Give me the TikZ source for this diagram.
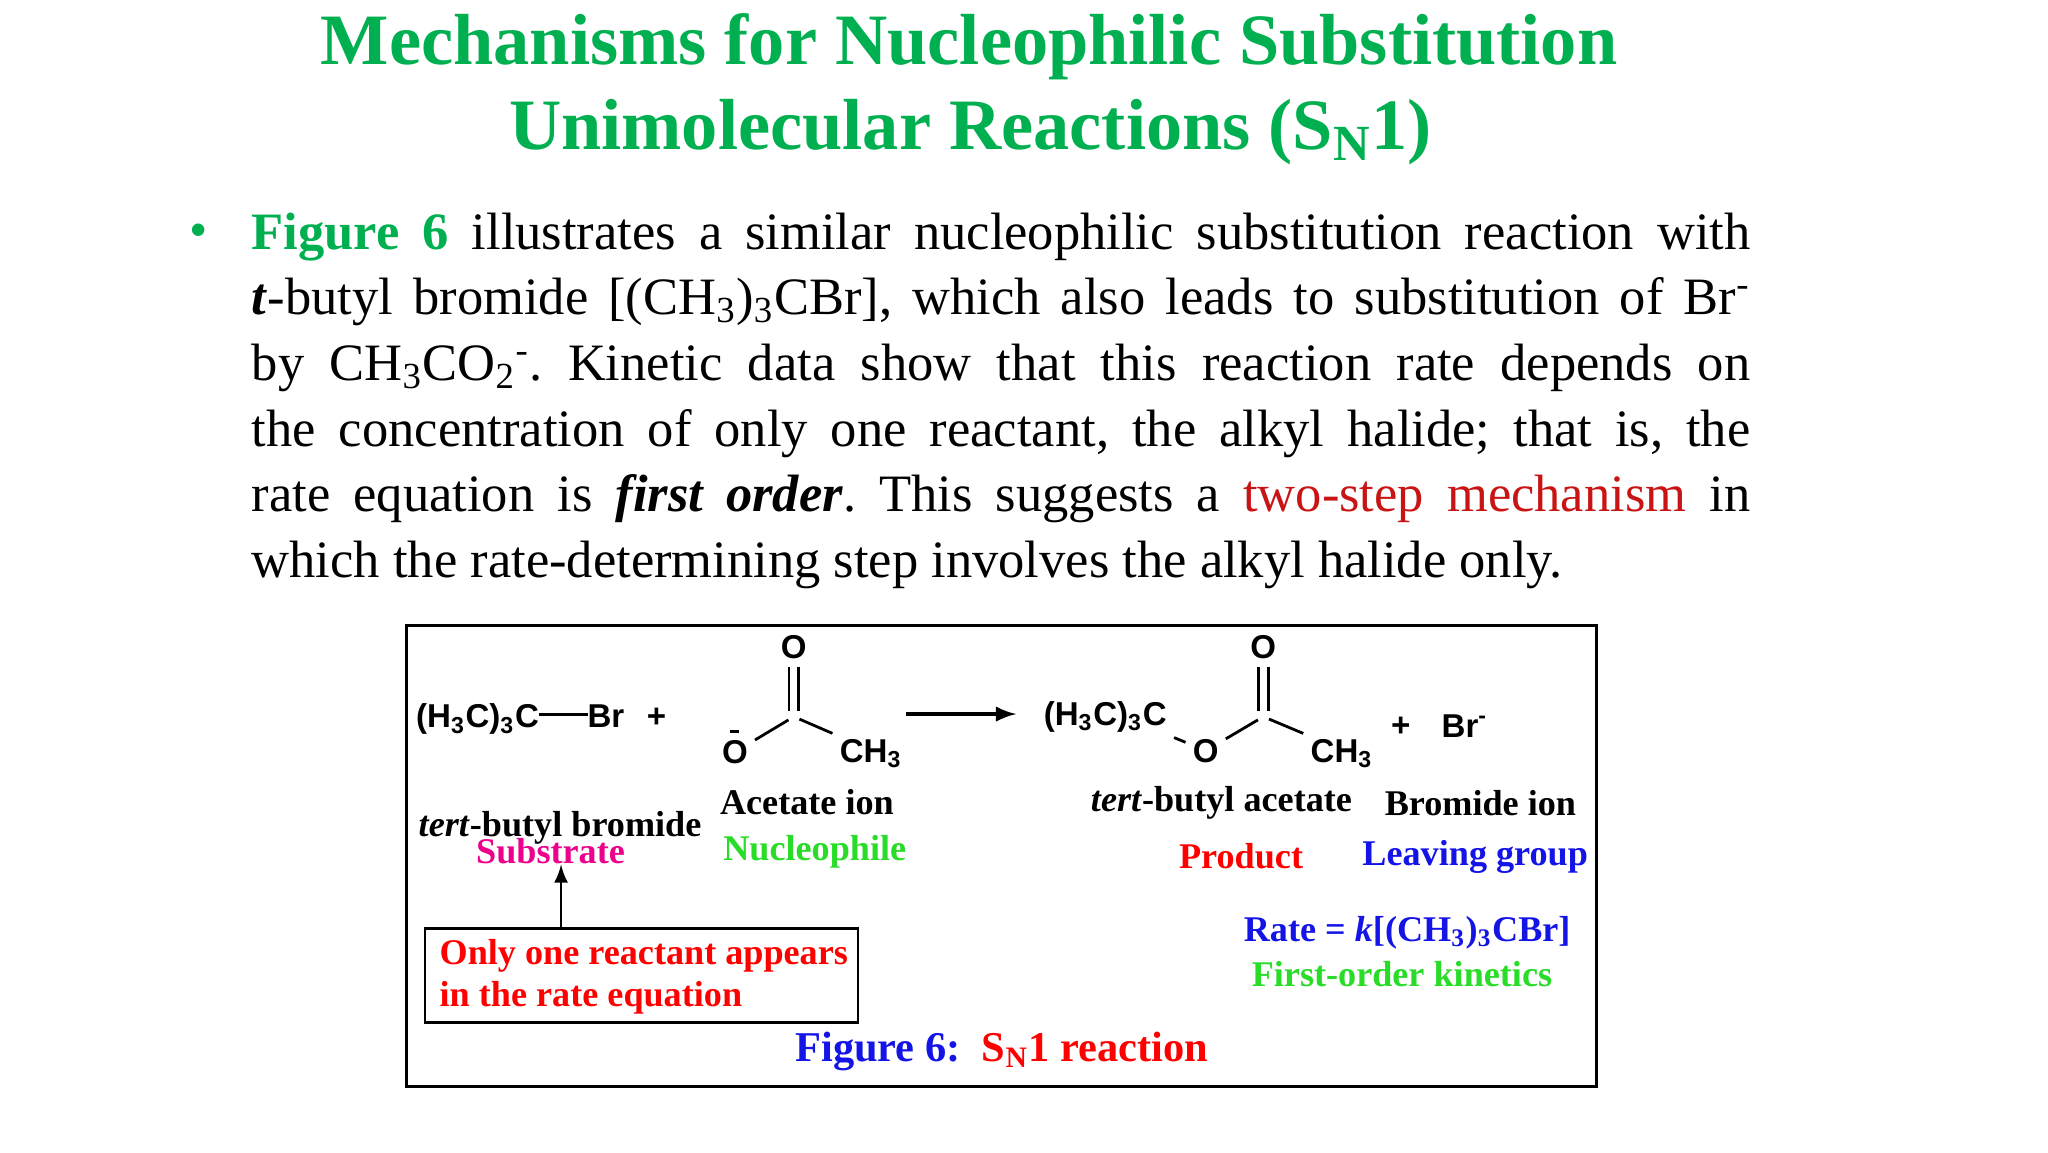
\documentclass[tikz,border=0pt]{standalone}
\usepackage{fontspec}
\setmainfont{Liberation Serif}
\setsansfont{Liberation Sans}
\definecolor{tgreen}{RGB}{0,176,80}
\definecolor{tred}{RGB}{200,20,20}
\definecolor{lgreen}{RGB}{40,220,40}
\definecolor{lblue}{RGB}{20,20,230}
\begin{document}
\begin{tikzpicture}[x=0.013213cm,y=-0.013213cm,
  title/.style={text=tgreen,font=\fontsize{20.8}{24}\selectfont\bfseries},
  atom/.style={font=\sffamily\bfseries\fontsize{9.5}{11}\selectfont,inner sep=1pt},
  lab/.style={font=\bfseries\fontsize{10.4}{12}\selectfont,inner sep=1pt},
  bond/.style={line width=0.8pt,shorten <=1pt,shorten >=1pt}]
\useasboundingbox (0,0) rectangle (1566,881);
\node[title] (t1) at (741,36) {Mechanisms for Nucleophilic Substitution};
\node[title] (t2) at (742,101) {Unimolecular Reactions (S\textsubscript{N}1)};
\node[text=tgreen,font=\fontsize{15}{18}\selectfont] (bul) at (152,180) {\textbullet};
\node[anchor=north west,inner sep=0pt,text width=430.8pt,align=justify,font=\fontsize{15.1}{18.9}\selectfont] (par) at (192,162)
{\frenchspacing\hyphenpenalty=10000\exhyphenpenalty=10000\textcolor{tgreen}{\textbf{Figure 6}} illustrates a similar nucleophilic substitution reaction with\linebreak \textbf{\textit{t}}-butyl bromide [(CH\textsubscript{3})\textsubscript{3}CBr], which also leads to substitution of Br\textsuperscript{-}\linebreak by CH\textsubscript{3}CO\textsubscript{2}\textsuperscript{-}. Kinetic data show that this reaction rate depends on\linebreak the concentration of only one reactant, the alkyl halide; that is, the\linebreak rate equation is \textbf{\textit{first order}}. This suggests a \textcolor{tred}{two-step mechanism} in\linebreak which the rate-determining step involves the alkyl halide only.\par};
\draw[line width=0.9pt] (311,478) rectangle (1221,831);
% reactant
\node[atom,anchor=west] (cbr) at (315,550) {(H\textsubscript{3}C)\textsubscript{3}C\rule[0.35em]{14pt}{0.8pt}Br};
\node[atom] (p1) at (502,549) {+};
\node[atom] (ao) at (607,495) {O};
\node[atom,inner sep=0pt] (ac) at (607,548) {};
\node[atom] (am) at (562,575) {O};
\draw[line width=0.9pt] (558,559) -- (565,559);
\node[atom] (ach) at (666,576) {CH\textsubscript{3}};
\draw[bond,double,double distance=2pt] (ao) -- (ac);
\draw[bond] (ac) -- (am);
\draw[bond] (ac) -- (ach.north west);
\coordinate (ar1) at (693,546);
\coordinate (ar2) at (777,546);
\draw[line width=1pt,-latex] (ar1) -- (ar2);
% product
\node[atom,anchor=west] (tb) at (795,548) {(H\textsubscript{3}C)\textsubscript{3}C};
\node[atom] (po) at (922,574) {O};
\node[atom,inner sep=0pt] (pc) at (966,548) {};
\node[atom] (pot) at (966,495) {O};
\node[atom] (pch) at (1026,576) {CH\textsubscript{3}};
\draw[bond] (tb.south east) -- (po);
\draw[bond] (po) -- (pc);
\draw[bond,double,double distance=2pt] (pot) -- (pc);
\draw[bond] (pc) -- (pch.north west);
\node[atom] (p2) at (1071,556) {+};
\node[atom] (brm) at (1120,555) {Br\textsuperscript{-}};
% labels
\node[lab] (l1) at (617,613) {Acetate ion};
\node[lab,anchor=west] (l2) at (317,633) {\textit{tert}-butyl bromide};
\node[lab,text=magenta] (l3) at (421,651) {Substrate};
\node[lab,text=lgreen] (l4) at (623,651) {Nucleophile};
\node[lab] (l5) at (934,614) {\textit{tert}-butyl acetate};
\node[lab] (l6) at (1132,614) {Bromide ion};
\node[lab,text=red] (l7) at (949,655) {Product};
\node[lab,text=lblue] (l8) at (1128,655) {Leaving group};
\node[lab,text=lblue] (l9) at (1076,713) {Rate = \textit{k}[(CH\textsubscript{3})\textsubscript{3}CBr]};
\node[lab,text=lgreen] (l10) at (1072,745) {First-order kinetics};
\draw[line width=0.8pt] (325,710) rectangle (656,782);
\node[lab,text=red,anchor=west] (rb1) at (333,731) {Only one reactant appears};
\node[lab,text=red,anchor=west] (rb2) at (333,763) {in the rate equation};
\coordinate (abase) at (429,710);
\draw[line width=0.8pt,-latex] (abase) -- (429,661);
\node[lab,font=\bfseries\fontsize{12.2}{14}\selectfont] (cap) at (766,804) {\textcolor{lblue}{Figure 6:}\ \ \textcolor{red}{S\textsubscript{N}1 reaction}};
\end{tikzpicture}
\end{document}
